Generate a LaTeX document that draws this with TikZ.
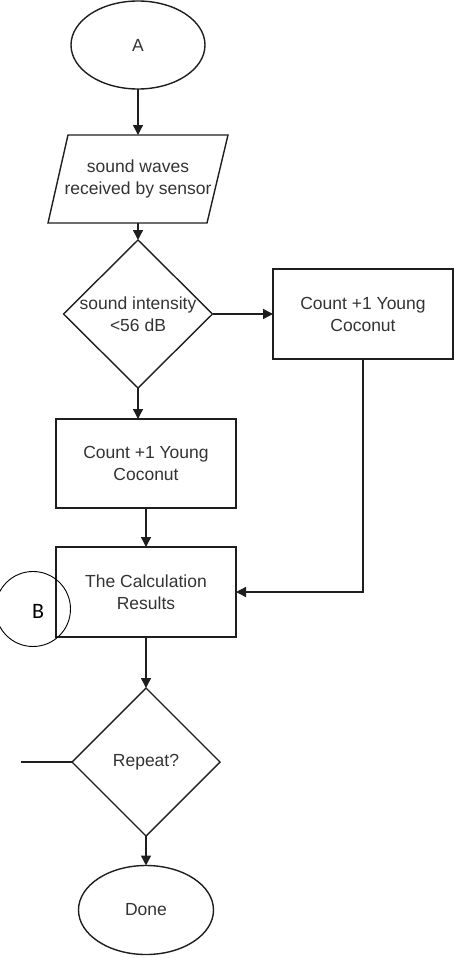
\documentclass[tikz,border=0pt]{standalone}
\usepackage{fontspec}
\setmainfont{Liberation Sans}
\newfontfamily\calib{Carlito}
\usetikzlibrary{shapes.geometric,arrows.meta}
\definecolor{txtgray}{HTML}{333333}
\definecolor{linec}{HTML}{1E1E1E}
\tikzset{
  every node/.style={inner sep=0pt, outer sep=0pt},
  shp/.style={draw=linec, line width=1.4pt},
  lbl/.style={text=txtgray, align=center, font=\fontsize{17.5}{22}\selectfont},
  term/.style={shp, ellipse, minimum width=134pt, minimum height=88pt},
  procbox/.style={shp, rectangle, minimum width=180pt, minimum height=89pt},
  decision/.style={shp, diamond, minimum width=149pt, minimum height=148pt},
  conn/.style={draw=linec, line width=1.4pt, -{Triangle[length=10pt,width=10pt]}},
  plainline/.style={draw=linec, line width=1.4pt}
}
\begin{document}
\begin{tikzpicture}[x=1pt,y=-1pt]
\useasboundingbox (0,0) rectangle (474,958);
% terminal A
\node[term] (A) at (138,45) {};
\node[lbl] at (A) {A};
% input parallelogram
\node[minimum width=160pt, minimum height=88pt] (pg) at (138,179) {};
\draw[shp] ([xshift=-70pt]pg.north) -- ([xshift=90pt]pg.north)
  -- ([xshift=69pt]pg.south) -- ([xshift=-90pt]pg.south) -- cycle;
\node[lbl] at (pg) {sound waves\\received by sensor};
% decision 1
\node[decision] (d1) at (138,314) {};
\node[lbl] at (d1) {sound intensity\\<56 dB};
% right box
\node[procbox, minimum height=90pt] (r1) at (363,314) {};
\node[lbl] at (r1) {Count +1 Young\\Coconut};
% left box
\node[procbox] (l1) at (146,463.5) {};
\node[lbl] at (l1) {Count +1 Young\\Coconut};
% calculation box
\node[procbox, minimum height=90pt] (calc) at (146,592) {};
\node[lbl] at (calc) {The Calculation\\Results};
% connector circle B
\node[circle, draw=black, line width=0.9pt, minimum size=75pt] (B) at (33,609) {};
\node[font=\calib\fontsize{22}{24}\selectfont, text=black] at ([xshift=5pt,yshift=-2pt]B.center) {B};
% decision 2
\node[decision, minimum width=148pt] (d2) at (146,762) {};
\node[lbl] at (d2) {Repeat?};
\coordinate (loopend) at (21,762);
% terminal Done
\node[term, minimum width=135pt, minimum height=89pt] (done) at (146,910) {};
\node[lbl] at (done) {Done};
% connectors
\draw[conn] (A.south) -- (pg.north);
\draw[conn] (pg.south) -- (d1.north);
\draw[conn] (d1.east) -- (r1.west);
\draw[conn] (d1.south) -- (d1.south |- l1.north);
\draw[conn] (l1.south) -- (calc.north);
\draw[conn] (r1.south) |- (calc.east);
\draw[conn] (calc.south) -- (d2.north);
\draw[plainline] (d2.west) -- (loopend);
\draw[conn] (d2.south) -- (done.north);
\end{tikzpicture}
\end{document}
